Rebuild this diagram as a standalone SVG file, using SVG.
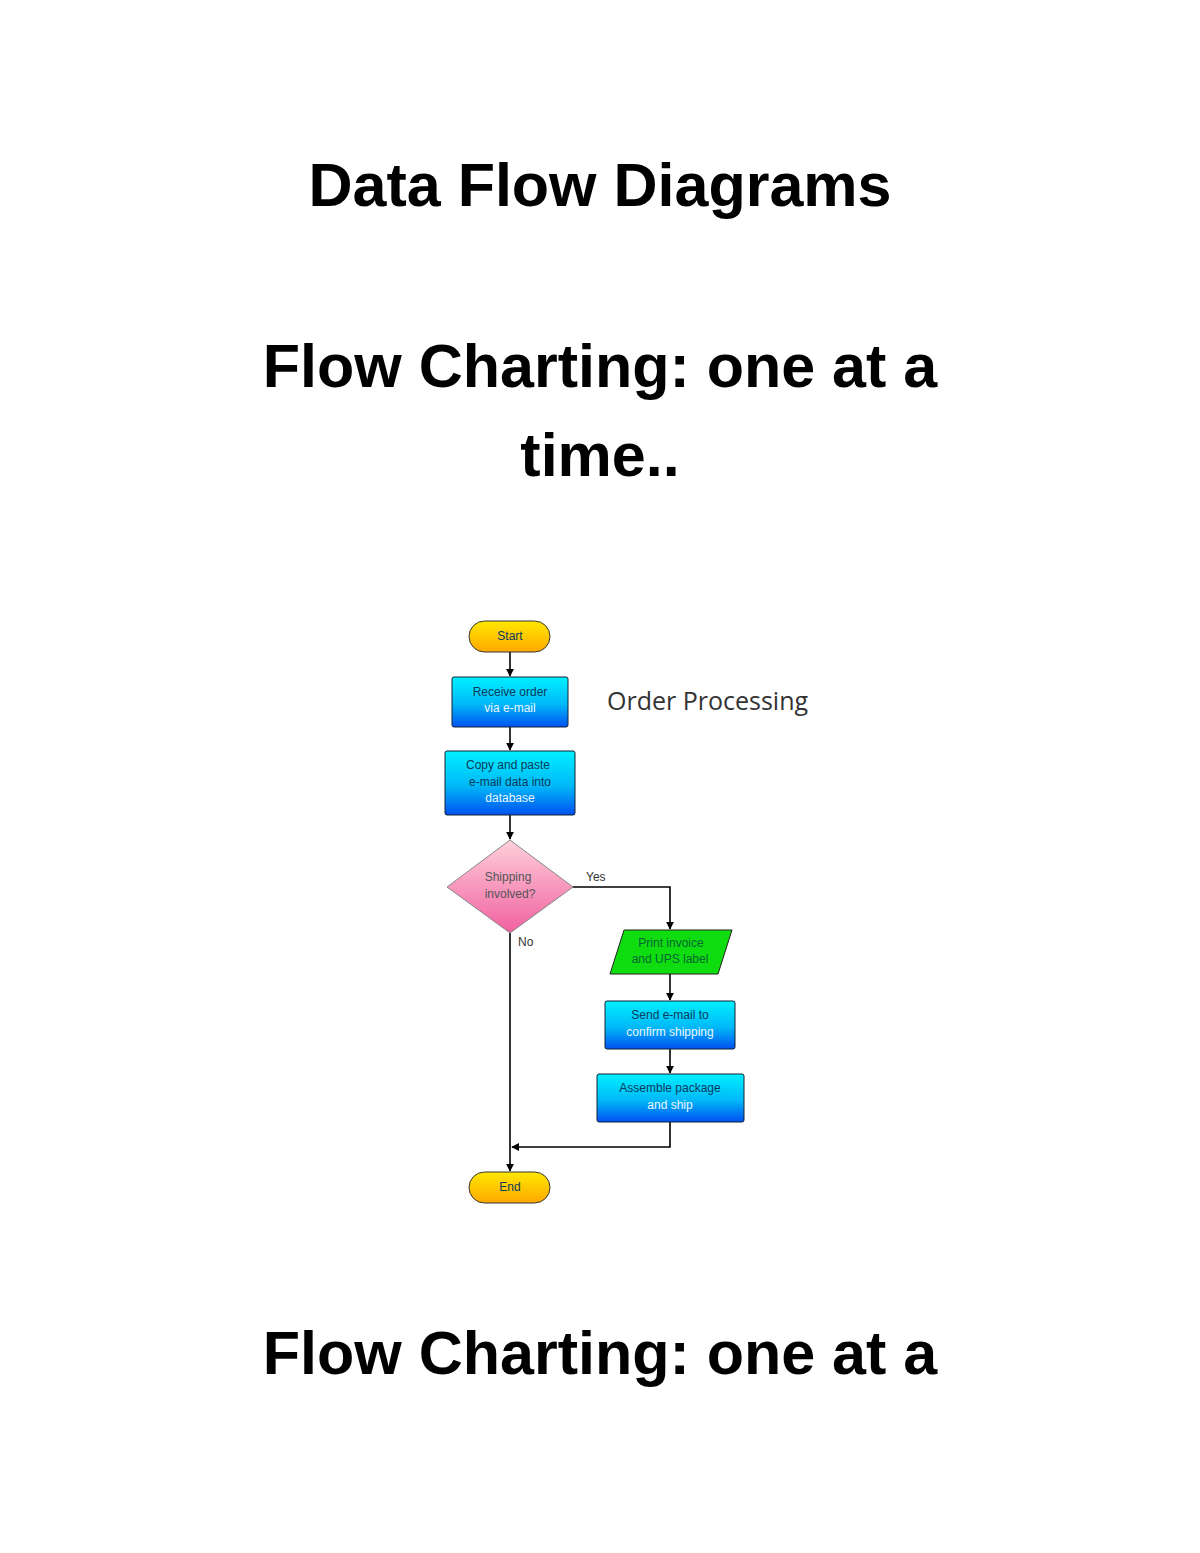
<svg xmlns="http://www.w3.org/2000/svg" width="1200" height="1553" viewBox="0 0 1200 1553">
<style>
.t{font-family:"Liberation Sans",Arial,sans-serif;font-weight:bold;font-size:61px;fill:#000;text-anchor:middle}
.n{font-family:"Liberation Sans",Arial,sans-serif;font-size:12px;text-anchor:middle}
.d{fill:#0a3a5a}.w{fill:#eaf6ff}
.c{fill:none;stroke:#000;stroke-width:1.6}
.lbl{font-family:"Liberation Sans",Arial,sans-serif;font-size:12px;fill:#333}
</style>
<defs>
<linearGradient id="blue" x1="0" y1="0" x2="0" y2="1"><stop offset="0" stop-color="#00f0ff"/><stop offset="0.55" stop-color="#00b8f8"/><stop offset="1" stop-color="#0050f0"/></linearGradient>
<linearGradient id="yel" x1="0" y1="0" x2="0" y2="1"><stop offset="0" stop-color="#ffe800"/><stop offset="1" stop-color="#ffa800"/></linearGradient>
<linearGradient id="pink" x1="0" y1="0" x2="0" y2="1"><stop offset="0" stop-color="#ffd0da"/><stop offset="1" stop-color="#f060a0"/></linearGradient>
<marker id="ar" viewBox="0 0 10 10" refX="9" refY="5" markerWidth="5" markerHeight="5" orient="auto"><path d="M0,0L10,5L0,10z" fill="#000"/></marker>
</defs>
<rect width="1200" height="1553" fill="#fff"/>
<text class="t" x="600" y="206">Data Flow Diagrams</text>
<text class="t" x="600" y="387">Flow Charting: one at a</text>
<text class="t" x="600" y="476">time..</text>
<text class="t" x="600" y="1374">Flow Charting: one at a</text>
<text x="607" y="710" font-family="'Open Sans','DejaVu Sans',sans-serif" font-size="25" fill="#333">Order Processing</text>
<g id="connectors">
<path class="c" d="M510,652V676" marker-end="url(#ar)"/>
<path class="c" d="M510,727V750" marker-end="url(#ar)"/>
<path class="c" d="M510,815V839" marker-end="url(#ar)"/>
<path class="c" d="M573,887H670V929" marker-end="url(#ar)"/>
<path class="c" d="M670,974V1000" marker-end="url(#ar)"/>
<path class="c" d="M670,1049V1073" marker-end="url(#ar)"/>
<path class="c" d="M670,1122V1147H512" marker-end="url(#ar)"/>
<path class="c" d="M510,933V1171" marker-end="url(#ar)"/>
<text class="lbl" x="586" y="881">Yes</text>
<text class="lbl" x="518" y="946">No</text>
</g>
<g id="start"><rect x="469" y="621" width="81" height="31" rx="15.5" fill="url(#yel)" stroke="#333"/><text class="n d" x="510" y="640">Start</text></g>
<g id="receive"><rect x="452" y="677" width="116" height="50" rx="2" fill="url(#blue)" stroke="#123"/><text class="n d" x="510" y="696">Receive order</text><text class="n w" x="510" y="712">via e-mail</text></g>
<g id="copy"><rect x="445" y="751" width="130" height="64" rx="2" fill="url(#blue)" stroke="#123"/><text class="n d" x="508" y="769">Copy and paste</text><text class="n d" x="510" y="786">e-mail data into</text><text class="n w" x="510" y="802">database</text></g>
<g id="decision"><path d="M510,840L573,887L510,933L447,887z" fill="url(#pink)" stroke="#888"/><text class="n" fill="#555" x="508" y="881">Shipping</text><text class="n" fill="#555" x="510" y="898">involved?</text></g>
<g id="print"><path d="M624,930H732L718,974H610z" fill="#10dd10" stroke="#222"/><text class="n" fill="#063" x="671" y="947">Print invoice</text><text class="n" fill="#063" x="670" y="963">and UPS label</text></g>
<g id="send"><rect x="605" y="1001" width="130" height="48" rx="2" fill="url(#blue)" stroke="#123"/><text class="n d" x="670" y="1019">Send e-mail to</text><text class="n w" x="670" y="1036">confirm shipping</text></g>
<g id="assemble"><rect x="597" y="1074" width="147" height="48" rx="2" fill="url(#blue)" stroke="#123"/><text class="n d" x="670" y="1092">Assemble package</text><text class="n w" x="670" y="1109">and ship</text></g>
<g id="end"><rect x="469" y="1172" width="81" height="31" rx="15.5" fill="url(#yel)" stroke="#333"/><text class="n d" x="510" y="1191">End</text></g>
</svg>
